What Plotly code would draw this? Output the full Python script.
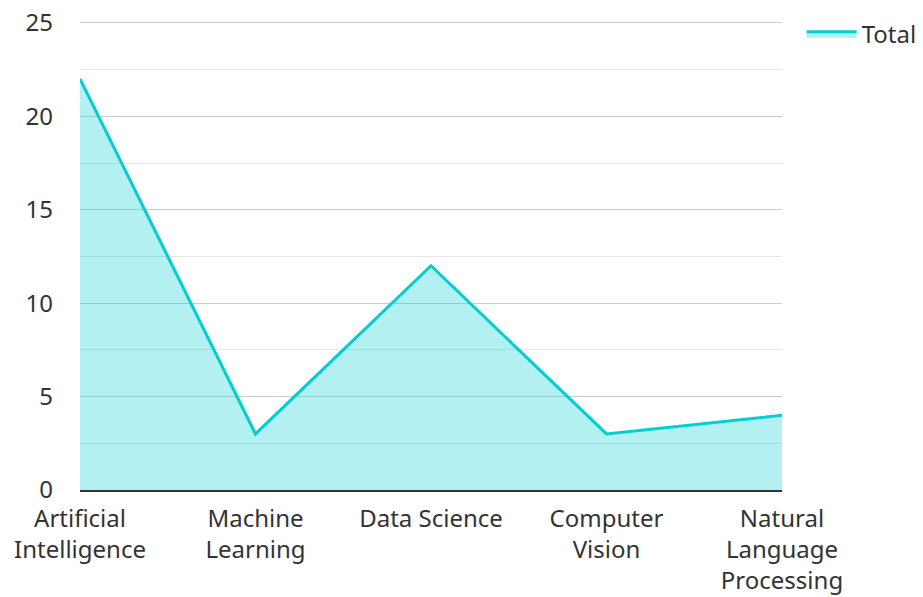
import plotly.graph_objects as go

categories = ["Artificial<br>Intelligence", "Machine<br>Learning", "Data Science",
              "Computer<br>Vision", "Natural<br>Language<br>Processing"]
totals = [22, 3, 12, 3, 4]

fig = go.Figure()
fig.add_trace(go.Scatter(
    x=categories, y=totals, name="Total", mode="lines",
    line=dict(color="#00CED1", width=3),
    fill="tozeroy", fillcolor="rgba(0,206,209,0.3)",
))

fig.update_layout(
    width=915, height=589,
    margin=dict(l=72, r=141, t=13, b=107, autoexpand=False),
    paper_bgcolor="white", plot_bgcolor="white",
    font=dict(family="Noto Sans", size=24, color="#333"),
    showlegend=True,
    legend=dict(x=1.028, y=1.02, xanchor="left", yanchor="top", itemwidth=50,
                font=dict(size=24, color="#333"), bgcolor="rgba(0,0,0,0)"),
    xaxis=dict(range=[0, 4], showgrid=False, showline=True, linecolor="#333",
               linewidth=2, ticks="", automargin=False, ticklabelstandoff=6,
               tickfont=dict(size=24, color="#333")),
    yaxis=dict(range=[0, 25.1], tickvals=[0, 5, 10, 15, 20, 25], showgrid=True,
               gridcolor="#cccccc", gridwidth=1, ticklabeloverflow="allow",
               zeroline=False, showline=False, ticks="", ticklabelstandoff=26,
               automargin=False,
               minor=dict(tickvals=[2.5, 7.5, 12.5, 17.5, 22.5], showgrid=True,
                          gridcolor="#e6e6e6", gridwidth=1),
               tickfont=dict(size=24, color="#333")),
)

fig.write_html("out.html")
